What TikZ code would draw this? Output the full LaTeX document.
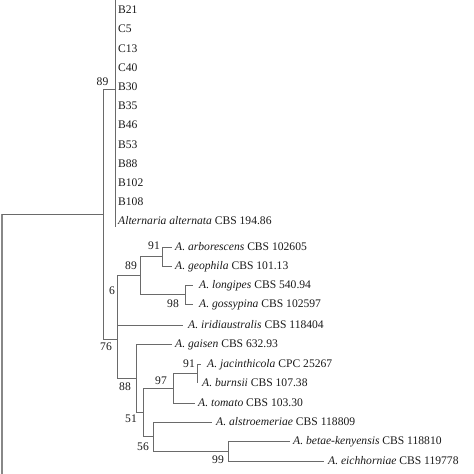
\documentclass[tikz,border=0pt]{standalone}
\usepackage{fontspec}
\setmainfont{Liberation Serif}
\definecolor{brgray}{HTML}{6A6A6A}
\definecolor{txt}{HTML}{1A1A1A}
\begin{document}
\begin{tikzpicture}[x=1pt,y=-1pt,
  br/.style={draw=brgray,line width=1pt},
  rootbr/.style={draw=brgray!80,line width=1.6pt},
  leaf/.style={anchor=base west,inner sep=0pt,text=txt,font=\fontsize{11.6}{13}\selectfont},
  bs/.style={anchor=center,inner sep=0pt,text=txt,font=\fontsize{11.6}{13}\selectfont}]
\useasboundingbox (0,0) rectangle (474,474);
% internal nodes
\coordinate (R) at (2,214);
\coordinate (Rb) at (2,474);
\coordinate (N1) at (103,214);
\coordinate (A) at (115,89);
\coordinate (At) at (115,0);
\coordinate (Ab) at (115,227);
\coordinate (N76) at (117,339);
\coordinate (N6) at (117.5,300);
\coordinate (N89) at (140.5,275.5);
\coordinate (N91a) at (162,256.5);
\coordinate (N98) at (185,294.5);
\coordinate (N88) at (136,378);
\coordinate (N51) at (143.5,412.25);
\coordinate (N97) at (173,388);
\coordinate (N91b) at (197,373.5);
\coordinate (N56) at (153,436.5);
\coordinate (N99) at (228,451);
% leaf tips
\coordinate (Tarb) at (172,247);
\coordinate (Tgeo) at (172,266);
\coordinate (Tlon) at (193,285);
\coordinate (Tgos) at (193,304);
\coordinate (Tiri) at (183,325);
\coordinate (Tgai) at (172,344);
\coordinate (Tjac) at (201,364);
\coordinate (Tbur) at (197,383);
\coordinate (Ttom) at (195,403);
\coordinate (Tals) at (212,422);
\coordinate (Tbet) at (290,441);
\coordinate (Teic) at (324,461);
% branches
\draw[rootbr] (R) -- (Rb);
\draw[br] (R) -- (N1);
\draw[br] (N1) |- (A);
\draw[br] (N1) |- (N76);
\draw[br] (A) -- (At);
\draw[br] (A) -- (Ab);
\draw[br] (N76) |- (N6);
\draw[br] (N76) |- (N88);
\draw[br] (N6) |- (N89);
\draw[br] (N6) |- (Tiri);
\draw[br] (N89) |- (N91a);
\draw[br] (N89) |- (N98);
\draw[br] (N91a) |- (Tarb);
\draw[br] (N91a) |- (Tgeo);
\draw[br] (N98) |- (Tlon);
\draw[br] (N98) |- (Tgos);
\draw[br] (N88) |- (Tgai);
\draw[br] (N88) |- (N51);
\draw[br] (N51) |- (N97);
\draw[br] (N51) |- (N56);
\draw[br] (N97) |- (N91b);
\draw[br] (N97) |- (Ttom);
\draw[br] (N91b) |- (Tjac);
\draw[br] (N91b) |- (Tbur);
\draw[br] (N56) |- (Tals);
\draw[br] (N56) |- (N99);
\draw[br] (N99) |- (Tbet);
\draw[br] (N99) |- (Teic);
% top clade leaves
\node[leaf] (L1) at (118,13.7) {B21};
\node[leaf] (L2) at (118,32.9) {C5};
\node[leaf] (L3) at (118,52.1) {C13};
\node[leaf] (L4) at (118,71.3) {C40};
\node[leaf] (L5) at (118,90.5) {B30};
\node[leaf] (L6) at (118,109.7) {B35};
\node[leaf] (L7) at (118,128.9) {B46};
\node[leaf] (L8) at (118,148.1) {B53};
\node[leaf] (L9) at (118,167.3) {B88};
\node[leaf] (L10) at (118,186.5) {B102};
\node[leaf] (L11) at (118,205.7) {B108};
\node[leaf] (L12) at (118,224.9) {\textit{Alternaria alternata} CBS 194.86};
% lower leaves
\node[leaf] (Larb) at (175,250.7) {\textit{A. arborescens} CBS 102605};
\node[leaf] (Lgeo) at (175,269.7) {\textit{A. geophila} CBS 101.13};
\node[leaf] (Llon) at (199,288.7) {\textit{A. longipes} CBS 540.94};
\node[leaf] (Lgos) at (199,307.7) {\textit{A. gossypina} CBS 102597};
\node[leaf] (Liri) at (188,328.7) {\textit{A. iridiaustralis} CBS 118404};
\node[leaf] (Lgai) at (175,347.7) {\textit{A. gaisen} CBS 632.93};
\node[leaf] (Ljac) at (207,367.7) {\textit{A. jacinthicola} CPC 25267};
\node[leaf] (Lbur) at (202,386.7) {\textit{A. burnsii} CBS 107.38};
\node[leaf] (Ltom) at (198,406.7) {\textit{A. tomato} CBS 103.30};
\node[leaf] (Lals) at (216,425.7) {\textit{A. alstroemeriae} CBS 118809};
\node[leaf] (Lbet) at (293,444.7) {\textit{A. betae-kenyensis} CBS 118810};
\node[leaf] (Leic) at (328,464.7) {\textit{A. eichhorniae} CBS 119778};
% bootstrap values
\node[bs] (B89a) at (102.5,82) {89};
\node[bs] (B91a) at (154,246) {91};
\node[bs] (B89b) at (131,266) {89};
\node[bs] (B6) at (112,291) {6};
\node[bs] (B98) at (173,304) {98};
\node[bs] (B76) at (106,347) {76};
\node[bs] (B88) at (125,387) {88};
\node[bs] (B97) at (161,381) {97};
\node[bs] (B91b) at (189,364) {91};
\node[bs] (B51) at (131,419) {51};
\node[bs] (B56) at (143,447) {56};
\node[bs] (B99) at (218,460) {99};
\end{tikzpicture}
\end{document}
